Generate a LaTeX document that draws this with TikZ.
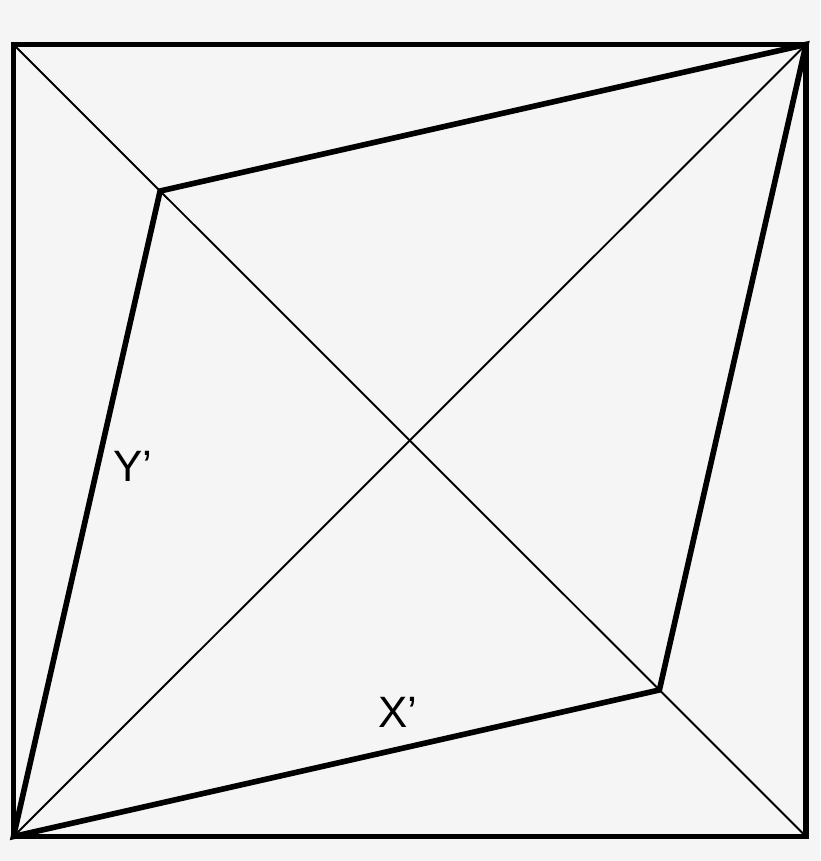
\documentclass[tikz,border=0pt]{standalone}
\usepackage{fontspec}
\setmainfont{Liberation Sans}
\usetikzlibrary{calc}
\definecolor{bggray}{RGB}{245,245,245}
\tikzset{
  frame/.style={line width=1.5pt},
  diag/.style={line width=0.55pt},
  rhomb/.style={line width=1.6pt, line join=miter},
  lbl/.style={font=\fontsize{12.5}{15}\selectfont, inner sep=0pt}
}
\begin{document}
\begin{tikzpicture}
        % Background and bounding box
        \fill [bggray] (0,0) rectangle (8.2,8.61);
        \useasboundingbox (0,0) rectangle (8.2,8.61);
        % Corners of the square
        \coordinate (bl) at (0.135,0.245);
        \coordinate (br) at (8.06,0.245);
        \coordinate (tr) at (8.06,8.165);
        \coordinate (tl) at (0.135,8.165);
        % Inner vertices on the diagonal
        \coordinate (p) at ($(tl)!0.185!(br)$);
        \coordinate (q) at ($(tl)!0.815!(br)$);
        % Draw the diagonals
        \draw[diag] (bl) -- (tr);
        \draw[diag] (tl) -- (br);
        % Draw the rhombus
        \draw[rhomb] (bl) -- (q) -- (tr) -- (p) -- cycle;
        % Draw the square
        \draw[frame] (bl) rectangle (tr);
        % Labels
        \node[lbl] (ylabel) at (1.33,3.95) {Y’};
        \node[lbl] (xlabel) at (3.98,1.49) {X’};
    \end{tikzpicture}
\end{document}
